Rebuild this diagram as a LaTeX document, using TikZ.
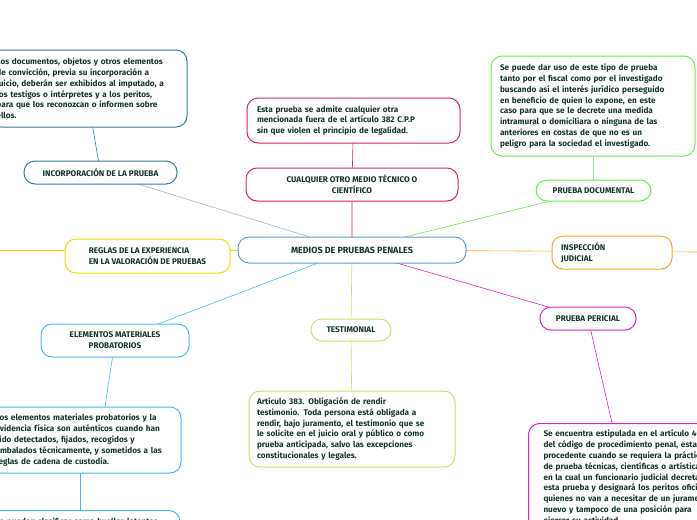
\documentclass[tikz,border=0pt]{standalone}
\usepackage{fontspec}
\setmainfont{Fira Sans}
\begin{document}
\begin{tikzpicture}[x=1pt,y=-1pt,
 box/.style={draw,line width=1pt,rounded corners=11pt,fill=white,inner sep=0pt,text=txt,font=\fontsize{8.2}{10.8}\selectfont\bfseries,align=left},
 ln/.style={line width=0.6pt}]
\definecolor{txt}{HTML}{17362A}
\definecolor{cA}{HTML}{D6245A}\definecolor{cB}{HTML}{3A7A95}\definecolor{cC}{HTML}{66EE44}
\definecolor{cD}{HTML}{F5A623}\definecolor{cE}{HTML}{EEDD00}\definecolor{cF}{HTML}{4AB8F0}
\definecolor{cG}{HTML}{C8E070}\definecolor{cH}{HTML}{E020C0}\definecolor{cM}{HTML}{5B9BD5}
\useasboundingbox (0,0) rectangle (697,520);
\clip (0,0) rectangle (697,520);
\coordinate (mc) at (352,250);
\coordinate (eL) at (0,250);
\coordinate (dR) at (697,252);
\coordinate (f2t) at (80,510);
\coordinate (h1t) at (612,423);
% connectors
\draw[ln,draw=cA] (mc) -- (352,184.5) -- (353.5,120.5);
\draw[ln,draw=cB!50] (mc) -- (100.5,172.5);
\draw[ln,draw=cB] (100.5,172.5) -- (88,100);
\draw[ln,draw=cC] (mc) -- (593.5,190.5) -- (593,106);
\draw[ln,draw=cD] (mc) -- (dR);
\draw[ln,draw=cE] (mc) -- (eL);
\draw[ln,draw=cF] (mc) -- (115,340.5) -- (100,440);
\draw[ln,draw=cF] (80,440) -- (f2t);
\draw[ln,draw=cG] (mc) -- (351,330) -- (352,429);
\draw[ln,draw=cH] (mc) -- (588,318.5) -- (h1t);
% nodes
\node[box,draw=cM,minimum width=228pt,minimum height=26pt,align=center,font=\fontsize{9}{10}\selectfont\bfseries] (m) at (352,250) {MEDIOS DE PRUEBAS PENALES};
\node[box,draw=cA,minimum width=212pt,minimum height=33pt,align=center] (a) at (352,184.5) {CUALQUIER OTRO MEDIO TÉCNICO O\\CIENTÍFICO};
\node[box,draw=cA,minimum width=213pt,minimum height=45pt,text width=193pt] (a1) at (353.5,120.5) {Esta prueba se admite cualquier otra\\mencionada fuera de el artículo 382 C.P.P\\sin que violen el principio de legalidad.};
\node[box,draw=cB,minimum width=153pt,minimum height=23pt,align=center] (b) at (100.5,172.5) {INCORPORACIÓN DE LA PRUEBA};
\node[box,draw=cB,minimum width=197pt,minimum height=77pt,text width=184pt] (b1) at (88.5,88.5) {Los documentos, objetos y otros elementos\\de convicción, previa su incorporación a\\juicio, deberán ser exhibidos al imputado, a\\los testigos o intérpretes y a los peritos,\\para que los reconozcan o informen sobre\\ellos.};
\node[box,draw=cC,minimum width=115pt,minimum height=21pt,align=center] (c) at (593.5,190.5) {PRUEBA DOCUMENTAL};
\node[box,draw=cC,minimum width=204pt,minimum height=100pt,text width=186pt] (c1) at (593,106) {Se puede dar uso de este tipo de prueba\\tanto por el fiscal como por el investigado\\buscando así el interés jurídico perseguido\\en beneficio de quien lo expone, en este\\caso para que se le decrete una medida\\intramural o domiciliara o ninguna de las\\anteriores en costas de que no es un\\peligro para la sociedad el investigado.};
\node[box,draw=cD,minimum width=120pt,minimum height=33pt,text width=102pt] (d) at (612,252.5) {INSPECCIÓN\\JUDICIAL};
\node[box,draw=cE,minimum width=165pt,minimum height=34pt] (e) at (147.5,256) {REGLAS DE LA EXPERIENCIA\\EN LA VALORACIÓN DE PRUEBAS};
\node[box,draw=cF,minimum width=148pt,minimum height=33pt,align=center] (f) at (115,340.5) {ELEMENTOS MATERIALES\\PROBATORIOS};
\node[box,draw=cF,minimum width=191pt,minimum height=66pt,text width=180pt] (f1) at (85.5,440) {Los elementos materiales probatorios y la\\evidencia física son auténticos cuando han\\sido detectados, fijados, recogidos y\\embalados técnicamente, y sometidos a las\\reglas de cadena de custodia.};
\node[box,draw=cF,minimum width=190pt,minimum height=24pt,anchor=north,text width=180pt] (f2) at (85,510) {Se pueden clasificar como huellas latentes};
\node[box,draw=cG,minimum width=80pt,minimum height=22pt,align=center] (g) at (351,330) {TESTIMONIAL};
\node[box,draw=cG,minimum width=206pt,minimum height=76pt,text width=190pt] (g1) at (352,429) {Artículo 383. Obligación de rendir\\testimonio. Toda persona está obligada a\\rendir, bajo juramento, el testimonio que se\\le solicite en el juicio oral y público o como\\prueba anticipada, salvo las excepciones\\constitucionales y legales.};
\node[box,draw=cH,minimum width=96pt,minimum height=23pt,align=center] (h) at (588,318.5) {PRUEBA PERICIAL};
\node[box,draw=cH,minimum width=210pt,minimum height=108pt,anchor=north west,text width=180pt] (h1) at (528,423) {Se encuentra estipulada en el artículo 405\\del código de procedimiento penal, esta es\\procedente cuando se requiera la práctica\\de prueba técnicas, científicas o artísticas\\en la cual un funcionario judicial decreta\\esta prueba y designará los peritos oficiales\\quienes no van a necesitar de un juramento\\nuevo y tampoco de una posición para\\ejercer su actividad.};
\end{tikzpicture}
\end{document}
